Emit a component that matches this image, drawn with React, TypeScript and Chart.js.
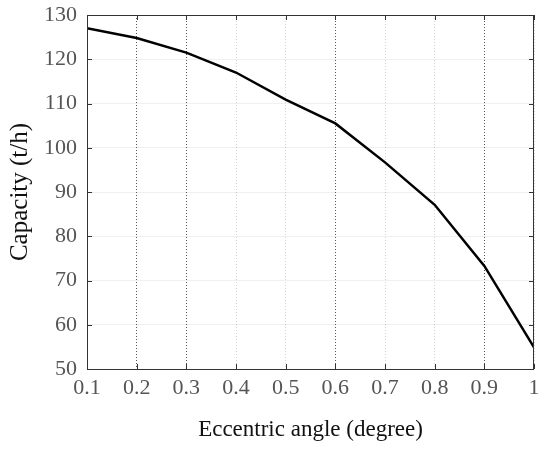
import React, { useEffect, useRef } from "react";
import { Chart, registerables } from "chart.js";

Chart.register(...registerables);

const xValues = [0.1, 0.2, 0.3, 0.4, 0.5, 0.6, 0.7, 0.8, 0.9, 1.0];
const capacity = [127, 124.8, 121.5, 117, 110.9, 105.5, 96.7, 87.1, 73.3, 54.9];
const darkGridX = [0.2, 0.3, 0.6, 0.9];
const yTicks = [50, 60, 70, 80, 90, 100, 110, 120, 130];

const FONT = "'Liberation Serif', 'DejaVu Serif', serif";

const frame = {
  id: "frame",
  afterDraw(chart: any) {
    const { ctx, chartArea: a, scales } = chart;
    ctx.save();
    ctx.strokeStyle = "#333";
    ctx.lineWidth = 1;
    ctx.setLineDash([]);
    ctx.strokeRect(a.left + 0.5, a.top + 0.5, a.right - a.left - 1, a.bottom - a.top);
    const t = 5;
    ctx.beginPath();
    for (const v of xValues) {
      const px = Math.round(scales.x.getPixelForValue(v)) + 0.5;
      ctx.moveTo(px, a.bottom);
      ctx.lineTo(px, a.bottom - t);
      ctx.moveTo(px, a.top);
      ctx.lineTo(px, a.top + t);
    }
    for (const v of yTicks) {
      const py = Math.round(scales.y.getPixelForValue(v)) + 0.5;
      ctx.moveTo(a.left, py);
      ctx.lineTo(a.left + t, py);
      ctx.moveTo(a.right, py);
      ctx.lineTo(a.right - t, py);
    }
    ctx.stroke();
    ctx.restore();
  },
};

export default function App() {
  const ref = useRef<HTMLCanvasElement>(null);
  useEffect(() => {
    const chart = new Chart(ref.current!, {
      type: "line",
      data: {
        datasets: [
          {
            data: xValues.map((x, i) => ({ x, y: capacity[i] })),
            borderColor: "#000",
            borderWidth: 2.5,
            pointRadius: 0,
            fill: false,
            tension: 0,
          },
        ],
      },
      options: {
        animation: false,
        responsive: false,
        layout: { padding: { top: 15, right: 16, left: 0, bottom: 0 } },
        plugins: { legend: { display: false }, tooltip: { enabled: false } },
        scales: {
          x: {
            type: "linear",
            min: 0.1,
            max: 1,
            afterBuildTicks: (s: any) => {
              s.ticks = xValues.map((v) => ({ value: v }));
            },
            afterFit: (s: any) => {
              s.height = 81;
            },
            grid: {
              drawTicks: false,
              color: (c: any) => {
                const v = c.tick ? c.tick.value : null;
                if (v == null) return "rgba(0,0,0,0)";
                if (darkGridX.some((d) => Math.abs(d - v) < 1e-6)) return "#555";
                return "#d4d4d4";
              },
              lineWidth: 1,
            },
            border: { display: false, dash: [1, 2] },
            ticks: {
              padding: 6,
              color: "#555",
              font: { family: FONT, size: 22 },
              callback: (v: any) => (Math.abs(v - 1) < 1e-6 ? "1" : Number(v).toFixed(1)),
            },
            title: {
              display: true,
              text: "Eccentric angle (degree)",
              color: "#111",
              font: { family: FONT, size: 23 },
              padding: { top: 0, bottom: 6 },
            },
          },
          y: {
            min: 50,
            max: 130,
            afterBuildTicks: (s: any) => {
              s.ticks = yTicks.map((v) => ({ value: v }));
            },
            afterFit: (s: any) => {
              s.width = 87;
              s.paddingTop = 0;
              s.paddingBottom = 0;
            },
            grid: {
              drawTicks: false,
              color: "rgba(0,0,0,0.06)",
              lineWidth: 1,
            },
            border: { display: false },
            ticks: {
              padding: 10,
              color: "#555",
              font: { family: FONT, size: 22 },
            },
            title: {
              display: true,
              text: "Capacity (t/h)",
              color: "#111",
              font: { family: FONT, size: 25 },
              padding: { top: 5, bottom: 0 },
            },
          },
        },
      },
      plugins: [frame],
    });
    return () => chart.destroy();
  }, []);
  return (
    <div style={{ position: "fixed", left: 0, top: 0, width: 550, height: 450, background: "#fff" }}>
      <canvas ref={ref} width={550} height={450} style={{ width: 550, height: 450 }} />
    </div>
  );
}
